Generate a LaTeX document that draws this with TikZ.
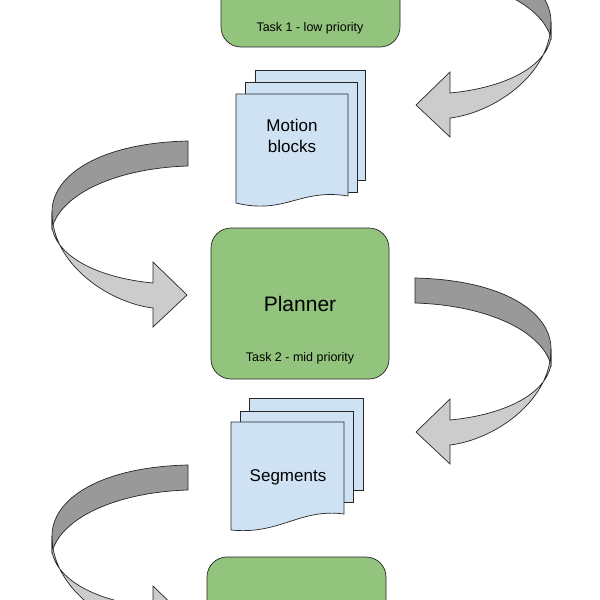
\documentclass[tikz,border=0pt]{standalone}
\usepackage{fontspec}
\setmainfont{Liberation Sans}
\definecolor{taskgreen}{HTML}{93C47D}
\definecolor{sheetblue}{HTML}{CFE2F3}
\newcommand\mytwist{%
    \path[dark] (188,141) .. controls (100,143) and (52,175) .. (52,212) -- (52,228) .. controls (62,192) and (120,168) .. (188,166) -- cycle;
    \path[light] (52,212) .. controls (52,265) and (110,303) .. (153,308) -- (153,327) -- (187,295) -- (153,262) -- (153,283) .. controls (100,278) and (58,258) .. (52,228) -- cycle;}
\begin{document}
\begin{tikzpicture}[x=1pt,y=-1pt,
  task/.style={draw=black!85,fill=taskgreen,rounded corners=20pt,line width=0.7pt},
  sheet/.style={draw=black!85,fill=sheetblue,line width=0.7pt},
  dark/.style={draw=black!85,fill=black!40,line width=0.7pt},
  light/.style={draw=black!85,fill=black!20,line width=0.7pt},
  lbl/.style={font=\fontsize{17}{21}\selectfont},
  small/.style={font=\fontsize{12.5}{15}\selectfont}]
\useasboundingbox (0,0) rectangle (600,600);
\begin{scope}
\clip (0,0) rectangle (600,600);
% tasks
\draw[task] (221,-40) rectangle (400,47);
\node[small] (t1) at (310,28) {Task 1 - low priority};
\draw[task] (211,228) rectangle (389,379);
\node[font=\fontsize{21}{25}\selectfont] (planner) at (300,304) {Planner};
\node[small] (t2) at (300,358) {Task 2 - mid priority};
\draw[task] (207,557) rectangle (386,660);
% motion blocks
\draw[sheet] (255,70) rectangle (365,180);
\draw[sheet] (245,82) rectangle (357,192);
\draw[sheet] (236,94) -- (348,94) -- (348,196) .. controls (300,188) and (285,215) .. (236,203) -- cycle;
\node[lbl,align=center] (mb) at (292,136) {Motion\\blocks};
% segments
\draw[sheet] (249,398) rectangle (363,490);
\draw[sheet] (240,411) rectangle (353,502);
\draw[sheet] (231,422) -- (344,422) -- (344,514) .. controls (300,508) and (280,535) .. (231,530) -- cycle;
\node[lbl] (seg) at (288,477) {Segments};
% arrows
\mytwist
\begin{scope}[yshift=-324pt]\mytwist\end{scope}
\begin{scope}[cm={-1,0,0,1,(603pt,190pt)}]\mytwist\end{scope}
\begin{scope}[cm={-1,0,0,1,(603pt,-137pt)}]\mytwist\end{scope}
\end{scope}
\end{tikzpicture}
\end{document}
